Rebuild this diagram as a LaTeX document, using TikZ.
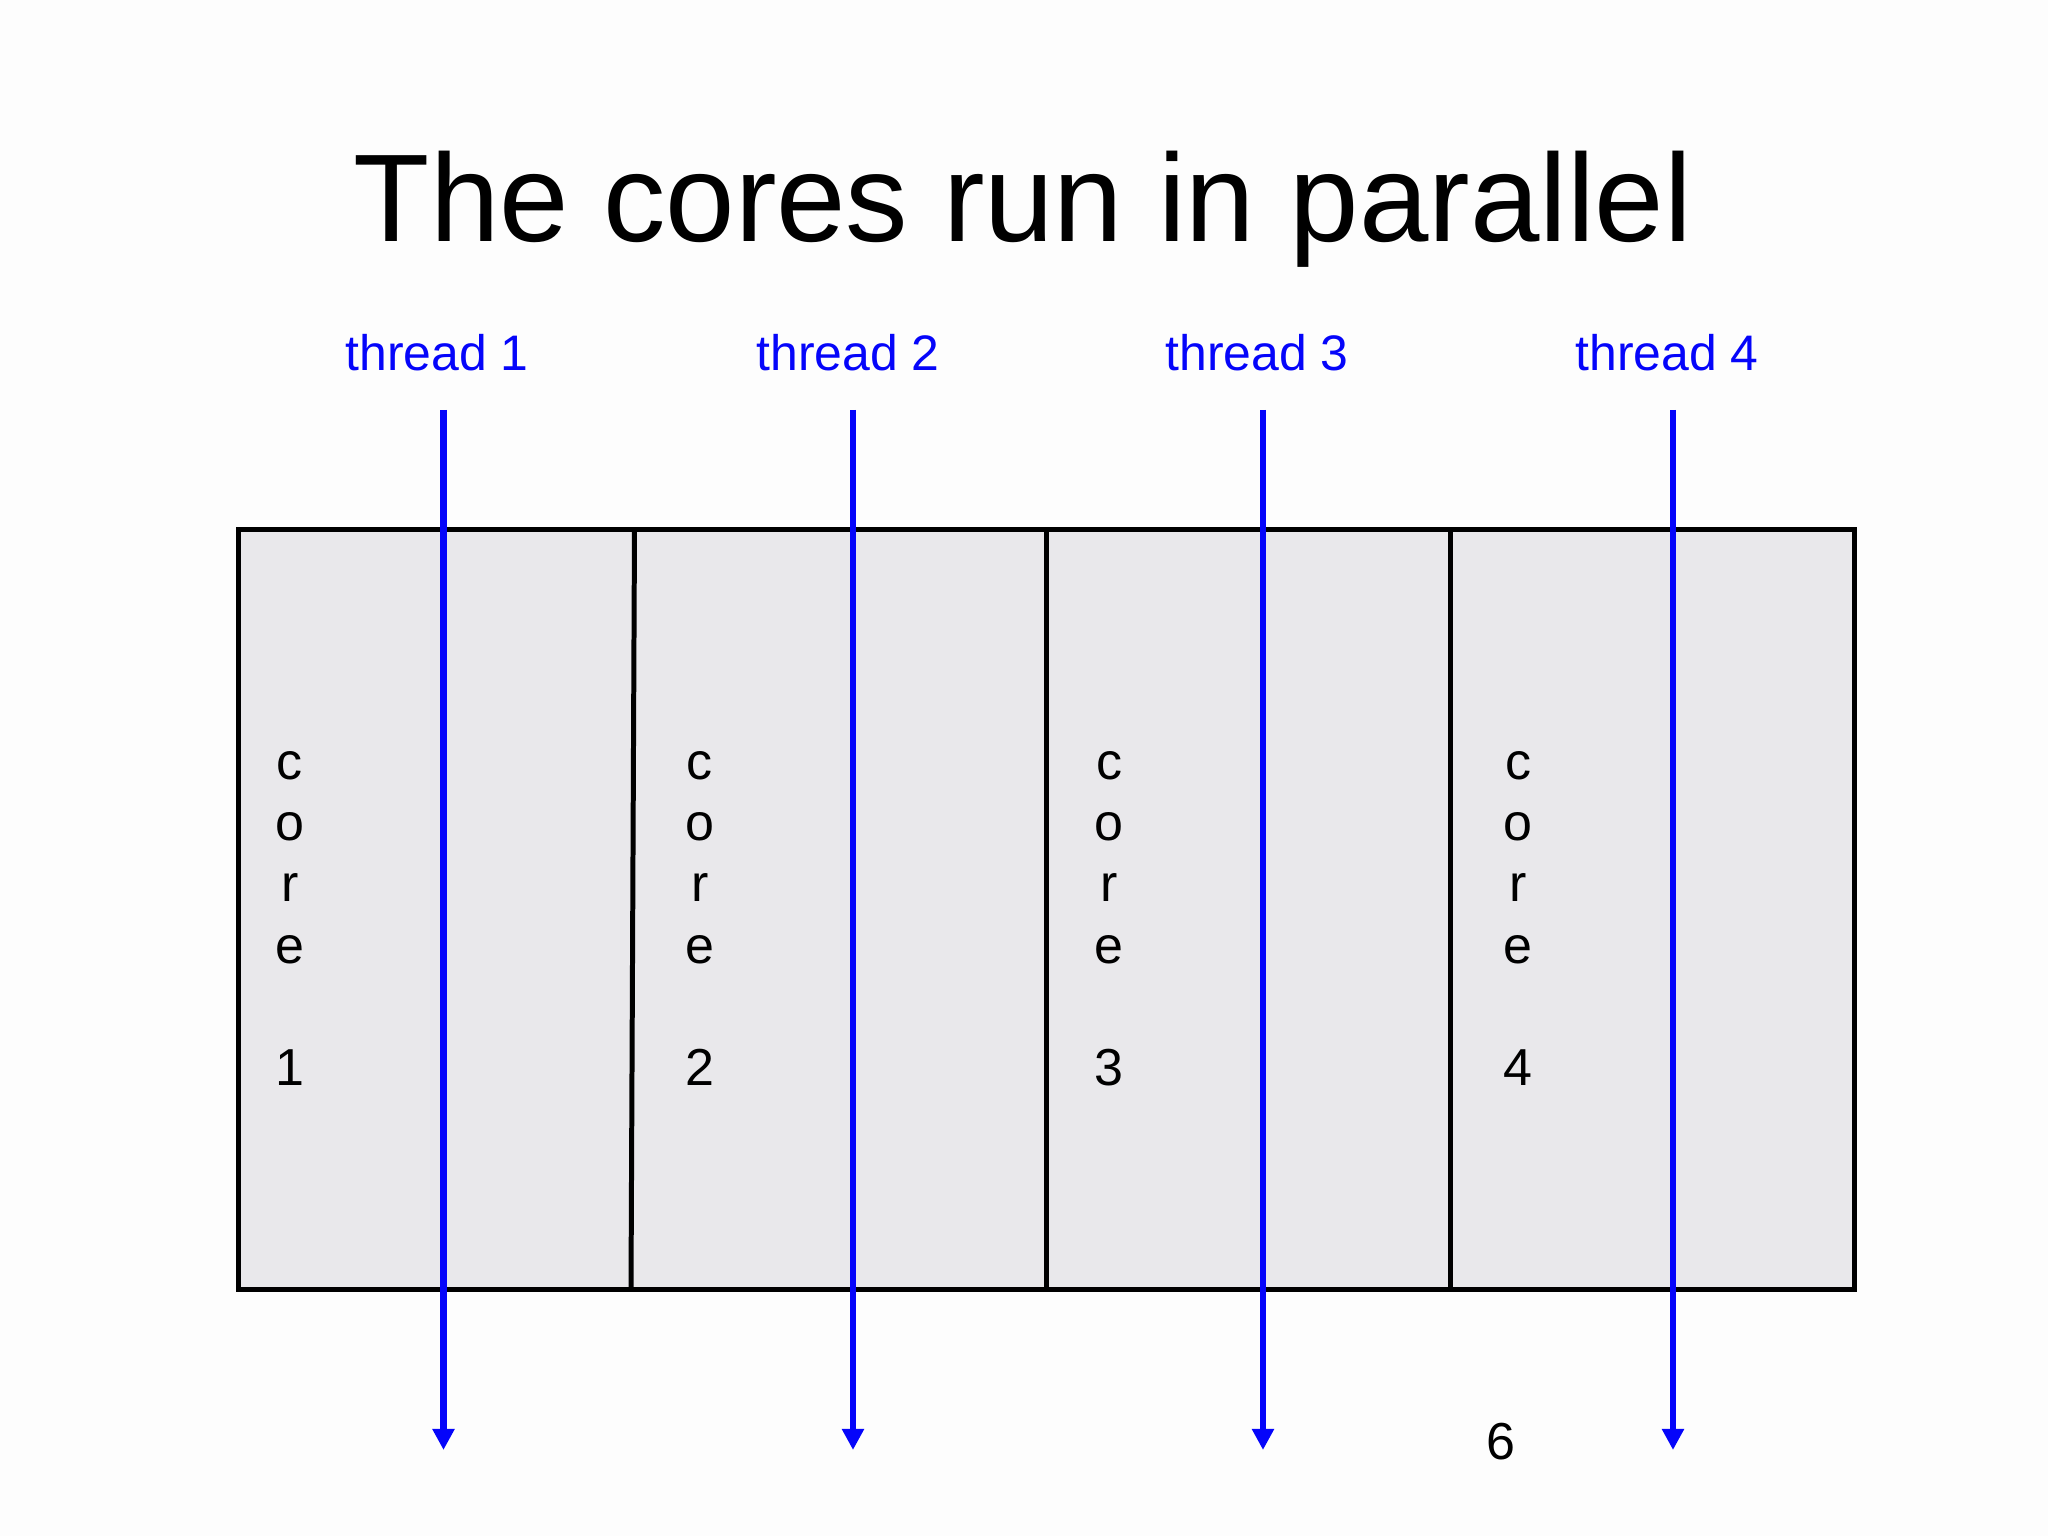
\documentclass[tikz,border=0pt]{standalone}
\usepackage{fontspec}
\setmainfont{Liberation Sans}
\usetikzlibrary{arrows.meta}
\definecolor{coregray}{RGB}{233,232,235}
\definecolor{threadblue}{RGB}{5,5,250}
\definecolor{pagebg}{RGB}{253,253,253}

\begin{document}
\begin{tikzpicture}[
	threadline/.style={line width=1.85pt, color=threadblue, -{Triangle[length=2.1mm, width=2.1mm]}},
	threadlabel/.style={font=\fontsize{14.2}{17}\selectfont, color=threadblue, anchor=base, inner sep=0pt},
	corelabel/.style={font=\fontsize{14.8}{17.45}\selectfont, align=center, anchor=base, inner sep=0pt},
	]
			%%%%% START %%%%%
			
			\useasboundingbox[fill=pagebg] (0, 0) rectangle (20.48, 15.36);
			
			\node[font=\fontsize{35.5}{40}\selectfont, anchor=base, inner sep=0pt] (title) at (10.23, 12.94) {The cores run in parallel};
			
			\draw[fill=coregray, line width=1.42pt] (2.385, 2.465) rectangle (18.545, 10.065);
			\draw[line width=1.42pt] (6.345, 10.065) -- (6.31, 2.465);
			\draw[line width=1.42pt] (10.465, 10.065) -- (10.465, 2.465);
			\draw[line width=1.42pt] (14.505, 10.065) -- (14.505, 2.465);
			
			% base anchor sits on the last line ("1")
			\node[corelabel] (core1) at (2.90, 4.50) {c\\o\\r\\e\\\\1};
			\node[corelabel] (core2) at (7.00, 4.50) {c\\o\\r\\e\\\\2};
			\node[corelabel] (core3) at (11.09, 4.50) {c\\o\\r\\e\\\\3};
			\node[corelabel] (core4) at (15.18, 4.50) {c\\o\\r\\e\\\\4};
			
			\node[threadlabel] (thread1) at (4.37, 11.65) {thread 1};
			\node[threadlabel] (thread2) at (8.48, 11.65) {thread 2};
			\node[threadlabel] (thread3) at (12.57, 11.65) {thread 3};
			\node[threadlabel] (thread4) at (16.67, 11.65) {thread 4};
			
			\coordinate (t1top) at (4.435, 11.26);
			\coordinate (t1end) at (4.435, 0.86);
			\coordinate (t2top) at (8.53, 11.26);
			\coordinate (t2end) at (8.53, 0.86);
			\coordinate (t3top) at (12.63, 11.26);
			\coordinate (t3end) at (12.63, 0.86);
			\coordinate (t4top) at (16.73, 11.26);
			\coordinate (t4end) at (16.73, 0.86);
			
			\draw[threadline] (t1top) -- (t1end);
			\draw[threadline] (t2top) -- (t2end);
			\draw[threadline] (t3top) -- (t3end);
			\draw[threadline] (t4top) -- (t4end);
			
			\node[font=\fontsize{14.8}{17}\selectfont, anchor=base, inner sep=0pt] (pagenum) at (15.01, 0.76) {6};
			
			%%%%% END %%%%%
\end{tikzpicture}
\end{document}
